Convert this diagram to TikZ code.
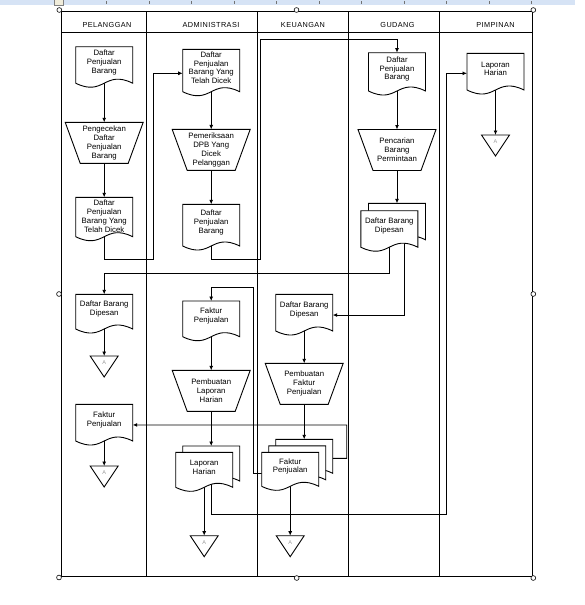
\documentclass[tikz,border=0pt]{standalone}
\usepackage{fontspec}
\setmainfont{Liberation Sans}
\usetikzlibrary{arrows.meta,calc}
\pgfdeclarelayer{bg}
\pgfdeclarelayer{conn}
\pgfdeclarelayer{shp}
\pgfsetlayers{bg,conn,shp,main}
\definecolor{rulerblue}{RGB}{214,227,245}
\definecolor{sqfill}{RGB}{240,236,218}
\newcommand\DocFont{\fontsize{7.8pt}{8.9pt}\selectfont}
\newcommand\HdrFont{\fontsize{7.3pt}{8pt}\selectfont\addfontfeatures{LetterSpace=6}}
\newcommand\AFont{\fontsize{5.5pt}{6pt}\selectfont}
\newcommand\mkDoc[1]{\draw[shapeline] (#1.south west) -- (#1.north west) -- (#1.north east) -- (#1.south east) .. controls ($(#1.south)+(0,-14)$) and ($(#1.south)+(0,14)$) .. (#1.south west) -- cycle;}
\newcommand\mkTrap[1]{\draw[shapeline] (#1.north west) -- (#1.north east) -- ($(#1.south east)+(-15,0)$) -- ($(#1.south west)+(15,0)$) -- cycle;}
\newcommand\mkTri[1]{\draw[shapeline] (#1.north west) -- (#1.north east) -- (#1.south) -- cycle;}
% document node: [text lift], name, position, side height, text
\newcommand\DocAt[5][2.8pt]{\node[docn=#4] (#2) at (#3) {};\node[base] (#2t) at ([yshift=#1]#2.center) {#5};}
\newcommand\TriAt[2]{\node[trin] (#1) at (#2) {};\node[atxt] (#1t) at ([yshift=3.5pt]#1.center) {A};}
\begin{document}
\begin{tikzpicture}[x=1pt,y=-1pt,
  base/.style={inner sep=0pt, outer sep=0pt, align=center, font=\DocFont},
  docn/.style={inner sep=0pt, outer sep=0pt, minimum width=57pt, minimum height=#1},
  trapn/.style={base, minimum width=78pt, minimum height=41pt},
  trin/.style={inner sep=0pt, outer sep=0pt, minimum width=28pt, minimum height=21pt},
  atxt/.style={inner sep=0pt, font=\AFont, text=black!40},
  shapeline/.style={draw=black, fill=white, line width=0.9pt},
  arr/.style={line width=0.9pt, -{Latex[length=4.5pt,width=4pt]}},
  lane/.style={line width=1pt},
  hdr/.style={font=\HdrFont, inner sep=0pt},
  handle/.style={draw=black, fill=white, line width=0.6pt}]
\useasboundingbox (0,0) rectangle (585,605);
\begin{pgfonlayer}{bg}
\fill[white] (0,0) rectangle (585,605);
\end{pgfonlayer}
% ruler strip
\fill[rulerblue] (0,0) rectangle (575,5.3);
\foreach \t in {0,...,10} \draw[black!55, line width=0.7pt] ({106.7+42.5*\t},1.2) -- ++(0,2.8);
\filldraw[fill=sqfill, draw=black!50, line width=0.5pt] (54.5,-1) rectangle (63,5);
% swimlane frame
\draw[lane] (61.7,11) rectangle (532.3,576);
\draw[lane] (61.7,32.3) -- (532.3,32.3);
\foreach \xx in {146.7,257.3,348.3,439.3} \draw[lane] (\xx,11) -- (\xx,576);
\node[hdr] (h1) at (107,25) {PELANGGAN};
\node[hdr] (h2) at (211,25) {ADMINISTRASI};
\node[hdr] (h3) at (303,25) {KEUANGAN};
\node[hdr] (h4) at (397.5,25) {GUDANG};
\node[hdr] (h5) at (495.5,25) {PIMPINAN};
% Pelanggan
\DocAt{p1}{104.2,64.95}{36.5pt}{Daftar\\Penjualan\\Barang}
\node[trapn] (p2) at (104.2,142.8) {Pengecekan\\Daftar\\Penjualan\\Barang};
\DocAt[1pt]{p3}{104.2,217}{39.4pt}{Daftar\\Penjualan\\Barang Yang\\Telah Dicek}
\DocAt{p4}{104.2,311.65}{34.7pt}{Daftar Barang\\Dipesan}
\TriAt{p5}{104.2,366.5}
\DocAt{p6}{104.2,422.65}{36.7pt}{Faktur\\Penjualan}
\TriAt{p7}{104.2,476.5}
% Administrasi
\DocAt{a1}{211.2,70.5}{42.4pt}{Daftar\\Penjualan\\Barang Yang\\Telah Dicek}
\node[trapn] (a2) at (211.2,149.9) {Pemeriksaan\\DPB Yang\\Dicek\\Pelanggan};
\DocAt{a3}{211.2,225.15}{41.7pt}{Daftar\\Penjualan\\Barang}
\DocAt{a4}{211.2,318.85}{35.7pt}{Faktur\\Penjualan}
\node[trapn] (a5) at (211.2,390.85) {Pembuatan\\Laporan\\Harian};
\node[docn=35pt] (a6b) at (211.2,463.5) {};
\DocAt{a6f}{204.2,469.8}{35pt}{Laporan\\Harian}
\TriAt{a7}{204.2,546.2}
% Keuangan
\DocAt{k1}{304.2,312.65}{36.7pt}{Daftar Barang\\Dipesan}
\node[trapn] (k2) at (304.2,383.8) {Pembuatan\\Faktur\\Penjualan};
\node[docn=34pt] (k3b) at (304.2,456.3) {};
\node[docn=34pt] (k3m) at (297.2,462.8) {};
\DocAt{k3f}{290.2,469.3}{34pt}{Faktur\\Penjualan}
\TriAt{k4}{290.2,546.2}
% Gudang
\DocAt{g1}{397,71.85}{38.3pt}{Daftar\\Penjualan\\Barang}
\node[trapn] (g2) at (397,150) {Pencarian\\Barang\\Permintaan};
\node[docn=36.5pt] (g3b) at (397,221.55) {};
\DocAt{g3f}{389.3,228.95}{36.5pt}{Daftar Barang\\Dipesan}
% Pimpinan
\DocAt{m1}{495.5,71.65}{36.7pt}{Laporan\\Harian}
\TriAt{m2}{495.5,145.5}
% shapes
\begin{pgfonlayer}{shp}
\mkDoc{p1} \mkTrap{p2} \mkDoc{p3} \mkDoc{p4} \mkTri{p5} \mkDoc{p6} \mkTri{p7}
\mkDoc{a1} \mkTrap{a2} \mkDoc{a3} \mkDoc{a4} \mkTrap{a5} \mkDoc{a6b} \mkDoc{a6f} \mkTri{a7}
\mkDoc{k1} \mkTrap{k2} \mkDoc{k3b} \mkDoc{k3m} \mkDoc{k3f} \mkTri{k4}
\mkDoc{g1} \mkTrap{g2} \mkDoc{g3b} \mkDoc{g3f}
\mkDoc{m1} \mkTri{m2}
\end{pgfonlayer}
% connectors
\begin{pgfonlayer}{conn}
\draw[arr] (p1.south) -- (p2.north);
\draw[arr] (p2.south) -- (p3.north);
\draw[arr] (p3.south) |- (153.3,259) |- ([yshift=-2.8pt]a1.west);
\draw[arr] (a1.south) -- (a2.north);
\draw[arr] (a2.south) -- (a3.north);
\draw[arr] (a3.south) |- (260.7,259) |- (300,39.3) -| (g1.north);
\draw[arr] (g1.south) -- (g2.north);
\draw[arr] (g2.south) -- (g3b.north);
\draw[arr] (g3f.south) |- (200,273.3) -| (p4.north);
\draw[arr] ([xshift=15pt]g3f.center) |- ([yshift=-2.4pt]k1.east);
\draw[arr] (m1.south) -- (m2.north);
\draw[arr] (a6b.south) |- (446.7,514.3) |- ([yshift=-1.7pt]m1.west);
\draw[arr] (a6f.south) -- (a7.north);
\draw[arr] (a4.south) -- (a5.north);
\draw[arr] (a5.south) -- (a6b.north);
\draw[arr] (k1.south) -- (k2.north);
\draw[arr] (k2.south) -- (k3b.north);
\draw[arr] (k3f.south) -- (k4.north);
\draw[arr] ([yshift=-2pt]k3b.east) -| (346.7,425) -- ([yshift=-2.3pt]p6.east);
\draw[arr] ([yshift=-4pt]k3f.west) -| (253.3,287.3) -| (a4.north);
\draw[arr] (p4.south) -- (p5.north);
\draw[arr] (p6.south) -- (p7.north);
\end{pgfonlayer}
% selection handles
\foreach \hx/\hy in {59.3/10,296.5/10,533.3/10,59/294,533.3/294,59/577.5,296.7/578,533.3/578}
  \draw[handle] (\hx,\hy) circle (2.4);
\end{tikzpicture}
\end{document}
